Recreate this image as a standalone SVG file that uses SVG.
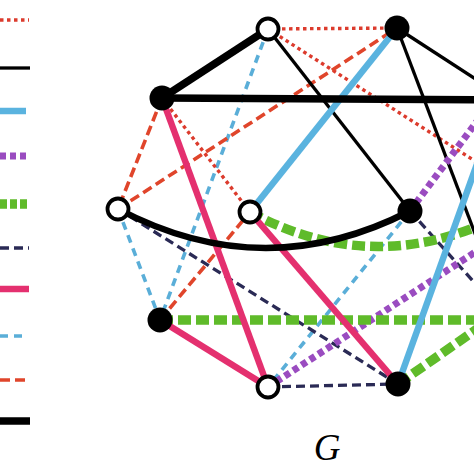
<svg xmlns="http://www.w3.org/2000/svg" width="474" height="474" viewBox="0 0 474 474">
<style>
.e{fill:none;stroke-linecap:butt}
.rdot{stroke:#dc3b2d;stroke-width:3.4;stroke-dasharray:3.5 3.5}
.bk{stroke:#000;stroke-width:3.3}
.bl{stroke:#5ab3df;stroke-width:6.5}
.pu{stroke:#9a4cc0;stroke-width:7;stroke-dasharray:6 4}
.gr{stroke:#5fbb2a;stroke-width:9.5;stroke-dasharray:13 5}
.nv{stroke:#2a2a55;stroke-width:3.3;stroke-dasharray:9 5}
.pk{stroke:#e4306f;stroke-width:6.5}
.lb{stroke:#5aaed8;stroke-width:3.6;stroke-dasharray:8 6}
.rda{stroke:#e0452b;stroke-width:3.6;stroke-dasharray:10 5}
.bkt{stroke:#000;stroke-width:7.5}
.open{fill:#fff;stroke:#000;stroke-width:3.8}
.fill{fill:#000}
</style>
<g id="legend">
<line class="e rdot" x1="0" y1="20" x2="29" y2="20"/>
<line class="e bk" x1="0" y1="68" x2="30" y2="68"/>
<line class="e bl" x1="0" y1="111" x2="26" y2="111"/>
<line class="e pu" x1="0" y1="156" x2="29" y2="156"/>
<line class="e gr" x1="0" y1="204" x2="28" y2="204" style="stroke-dasharray:7 3"/>
<line class="e nv" x1="0" y1="248" x2="29" y2="248"/>
<line class="e pk" x1="0" y1="289" x2="29" y2="289"/>
<line class="e lb" x1="0" y1="336" x2="28" y2="336"/>
<line class="e rda" x1="0" y1="380" x2="28" y2="380"/>
<line class="e bkt" x1="0" y1="421" x2="30" y2="421"/>
</g>
<g id="connectors">
<line class="e lb" x1="268" y1="29" x2="160" y2="320"/>
<line class="e lb" x1="118" y1="209" x2="160" y2="320"/>
<line class="e lb" x1="410" y1="211" x2="268" y2="387"/>
<line class="e rdot" x1="268" y1="29" x2="397" y2="28"/>
<line class="e rdot" x1="268" y1="29" x2="500" y2="177"/>
<line class="e rdot" x1="162" y1="98" x2="250" y2="212"/>
<line class="e rda" x1="162" y1="98" x2="118" y2="209"/>
<line class="e rda" x1="118" y1="209" x2="397" y2="28"/>
<line class="e rda" x1="160" y1="320" x2="250" y2="212"/>
<line class="e nv" x1="118" y1="209" x2="398" y2="384"/>
<line class="e nv" x1="268" y1="387" x2="398" y2="384"/>
<line class="e nv" x1="410" y1="211" x2="490" y2="300"/>
<line class="e bk" x1="268" y1="29" x2="410" y2="211"/>
<line class="e bk" x1="397" y1="28" x2="500" y2="95"/>
<line class="e bk" x1="397" y1="28" x2="490" y2="273"/>
<line class="e pu" x1="410" y1="211" x2="490" y2="104"/>
<line class="e pu" x1="268" y1="387" x2="500" y2="236"/>
<path class="e gr" d="M250,212 Q375,280 505,214"/>
<line class="e gr" x1="160" y1="320" x2="500" y2="320"/>
<line class="e gr" x1="398" y1="384" x2="500" y2="313"/>
<line class="e bl" x1="250" y1="212" x2="397" y2="28"/>
<line class="e bl" x1="398" y1="384" x2="482" y2="150"/>
<line class="e pk" x1="162" y1="98" x2="268" y2="387"/>
<line class="e pk" x1="160" y1="320" x2="268" y2="387"/>
<line class="e pk" x1="250" y1="212" x2="398" y2="384"/>
<line class="e bkt" x1="162" y1="98" x2="268" y2="29"/>
<line class="e bkt" x1="162" y1="98" x2="500" y2="100"/>
<path class="e bkt" style="stroke-width:6.5" d="M118,209 Q264,286 410,211"/>
</g>
<g id="nA"><circle class="open" cx="268" cy="29" r="10.5"/></g>
<g id="nB"><circle class="fill" cx="397" cy="28" r="12.5"/></g>
<g id="nC"><circle class="fill" cx="162" cy="98" r="12.5"/></g>
<g id="nD"><circle class="open" cx="118" cy="209" r="10.5"/></g>
<g id="nE"><circle class="open" cx="250" cy="212" r="10.5"/></g>
<g id="nF"><circle class="fill" cx="410" cy="211" r="12.5"/></g>
<g id="nG"><circle class="fill" cx="160" cy="320" r="12.5"/></g>
<g id="nH"><circle class="open" cx="268" cy="387" r="10.5"/></g>
<g id="nI"><circle class="fill" cx="398" cy="384" r="12.5"/></g>
<text x="327" y="460" font-family="Liberation Serif, serif" font-style="italic" font-size="37" text-anchor="middle">G</text>
</svg>
